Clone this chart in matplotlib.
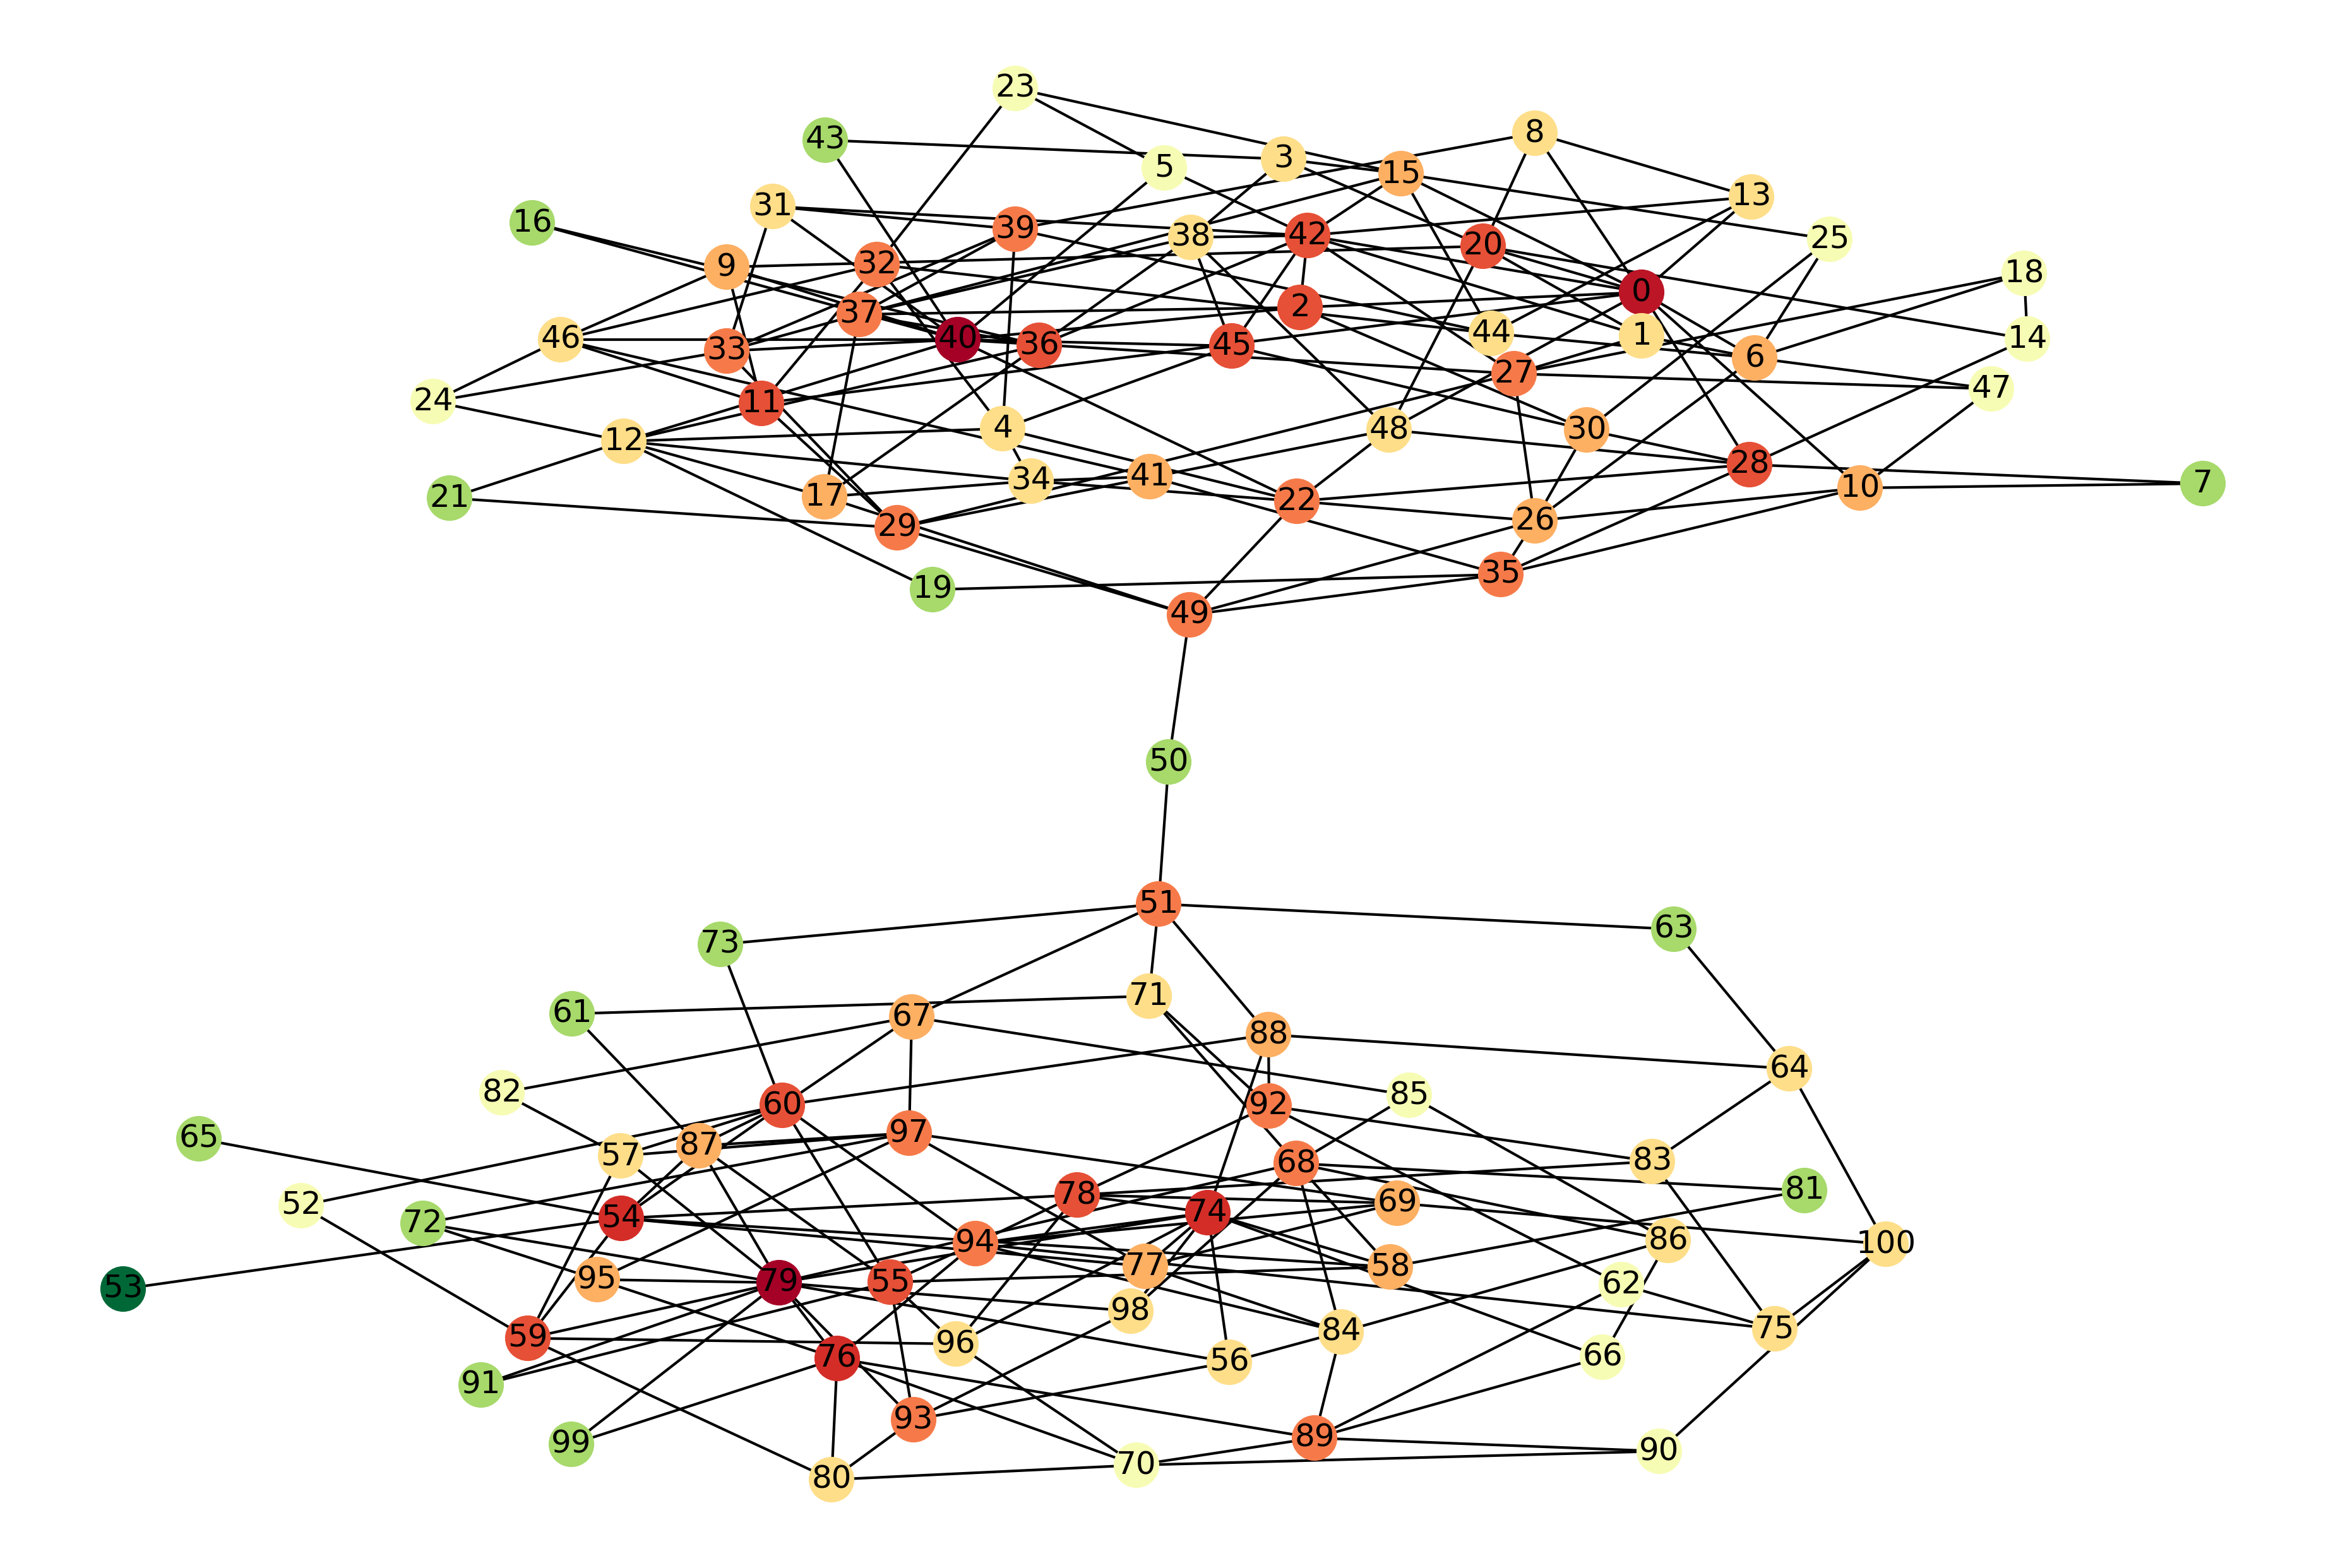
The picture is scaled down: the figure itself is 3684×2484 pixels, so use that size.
import numpy as np
import matplotlib
matplotlib.use("Agg")
import matplotlib.pyplot as plt
from matplotlib.collections import LineCollection

# node positions (pixels), index = node label
node_x = [2600, 2600, 2059, 2033, 1588, 1844, 2779, 3489, 2431, 1151,
          2946, 1206, 988, 2774, 3211, 2219, 843, 1306, 3206, 1477,
          2349, 712, 2054, 1608, 686, 2898, 2431, 2398, 2771, 1421,
          2513, 1224, 1389, 1151, 1633, 2377, 1646, 1361, 1886, 1608,
          1517, 1821, 2071, 1307, 2362, 1951, 888, 3154, 2200, 1884,
          1851, 1835, 477, 195, 984, 1410, 1947, 983, 2202, 836,
          1239, 906, 2568, 2651, 2834, 315, 2538, 1444, 2053, 2213,
          1800, 1820, 670, 1141, 1913, 2811, 1326, 1814, 1706, 1234,
          1317, 2858, 795, 2617, 2124, 2232, 2642, 1107, 2009, 2082,
          2628, 762, 2010, 1447, 1545, 946, 1514, 1440, 1791, 905,
          2987]
node_y = [463, 532, 487, 252, 679, 266, 567, 766, 211, 423,
          773, 639, 699, 312, 537, 275, 353, 787, 433, 934,
          390, 789, 794, 140, 636, 379, 825, 592, 736, 836,
          681, 327, 419, 556, 762, 910, 547, 498, 376, 363,
          538, 755, 373, 222, 528, 548, 538, 616, 681, 974,
          1207, 1432, 1910, 2042, 1930, 2031, 2158, 1831, 2007, 2120,
          1751, 1606, 2035, 1472, 1693, 1804, 2150, 1611, 1843, 1906,
          2321, 1578, 1938, 1496, 1921, 2105, 2152, 2006, 1893, 2032,
          2344, 1886, 1731, 1840, 2110, 1735, 1965, 1815, 1639, 2278,
          2299, 2194, 1752, 2249, 1970, 2027, 2129, 1795, 2077, 2288,
          1971]

# node degree
node_degree = [9, 4, 7, 4, 4, 3, 5, 2, 4, 5,
               5, 7, 4, 4, 3, 5, 2, 5, 3, 2,
               7, 2, 6, 3, 3, 3, 5, 6, 7, 6,
               5, 4, 6, 6, 4, 6, 7, 6, 4, 6,
               10, 5, 7, 2, 4, 7, 4, 3, 4, 6,
               2, 6, 3, 1, 8, 7, 4, 4, 5, 7,
               7, 2, 3, 2, 4, 2, 3, 5, 6, 5,
               3, 4, 2, 2, 8, 4, 8, 5, 7, 10,
               4, 2, 3, 4, 4, 3, 4, 5, 5, 6,
               3, 2, 6, 6, 6, 5, 4, 6, 4, 2,
               4]

edges_top = [(0, 8), (0, 13), (0, 15), (0, 20), (0, 42), (0, 2), (0, 11), (0, 48), (0, 6), (0, 10), (0, 28),
             (1, 20), (1, 42), (1, 6), (1, 27),
             (2, 40), (2, 37), (2, 42), (2, 30),
             (3, 43), (3, 15), (3, 20), (3, 38),
             (4, 39), (4, 32), (4, 12), (4, 45), (4, 22), (4, 34),
             (5, 23), (5, 40), (5, 42),
             (6, 25), (6, 18), (6, 26), (6, 47), (6, 44),
             (7, 28), (7, 10),
             (8, 13), (8, 39), (8, 20),
             (9, 46), (9, 11), (9, 20), (9, 40),
             (10, 47), (10, 26), (10, 35),
             (11, 46), (11, 32), (11, 29),
             (12, 24), (12, 21), (12, 40), (12, 36), (12, 34), (12, 17), (12, 19),
             (13, 42), (13, 44),
             (14, 18), (14, 20), (14, 28),
             (15, 23), (15, 25), (15, 42), (15, 37), (15, 44),
             (16, 36), (16, 40),
             (17, 36), (17, 37), (17, 34), (17, 49),
             (18, 27), (19, 35), (20, 48), (21, 29),
             (22, 40), (22, 34), (22, 48), (22, 26), (22, 28), (22, 49),
             (23, 32), (24, 46), (24, 33), (25, 30),
             (26, 27), (26, 30), (26, 35), (26, 49),
             (27, 42), (27, 40), (27, 29), (27, 47),
             (28, 30), (28, 48), (28, 35),
             (29, 48), (29, 49), (29, 33), (30, 45),
             (31, 39), (31, 40), (31, 33), (31, 42),
             (32, 46), (32, 44),
             (33, 39), (33, 37), (33, 40),
             (34, 41), (35, 41), (35, 49),
             (36, 37), (36, 38), (36, 42),
             (37, 38), (37, 39),
             (38, 42), (38, 45), (38, 48),
             (39, 44), (40, 43), (40, 45), (40, 46), (41, 46), (42, 45)]

edges_bridge = [(49, 50), (50, 51)]

edges_bottom = [(51, 73), (51, 63), (51, 67), (51, 71), (51, 88),
                (52, 60), (52, 59),
                (53, 54), (54, 78), (54, 65), (54, 87), (54, 60), (54, 59), (54, 58), (54, 77),
                (55, 60), (55, 87), (55, 91), (55, 58), (55, 96), (55, 93), (55, 94),
                (56, 74), (56, 84), (56, 93), (56, 79),
                (57, 97), (57, 60), (57, 59), (57, 82), (57, 79),
                (58, 68), (58, 74), (58, 81),
                (59, 79), (59, 96), (59, 80),
                (60, 73), (60, 67), (60, 88), (60, 94), (60, 87),
                (61, 71), (61, 87),
                (62, 92), (62, 89), (62, 75),
                (63, 64), (64, 88), (64, 83), (64, 100),
                (66, 89), (66, 74), (66, 86),
                (67, 82), (67, 85), (67, 97),
                (68, 71), (68, 85), (68, 86), (68, 81), (68, 84), (68, 79), (68, 98),
                (69, 100), (69, 78), (69, 94), (69, 97), (69, 77),
                (70, 89), (70, 90), (70, 80), (70, 76), (70, 96),
                (71, 92), (72, 97), (72, 95), (72, 79),
                (74, 78), (74, 94), (74, 88), (74, 79), (74, 96), (74, 98), (74, 77),
                (75, 94), (75, 83), (75, 100),
                (76, 99), (76, 80), (76, 89), (76, 94), (76, 95), (76, 79),
                (77, 97), (77, 84),
                (78, 92), (78, 83), (78, 94), (78, 96),
                (79, 95), (79, 91), (79, 99), (79, 98), (79, 87), (79, 93),
                (80, 93), (83, 92), (84, 86), (84, 89), (84, 94),
                (85, 86), (87, 97), (88, 92), (89, 90), (90, 100),
                (93, 98), (95, 97)]

edges = edges_top + edges_bridge + edges_bottom

fig = plt.figure(figsize=(3684 / 300, 2484 / 300), dpi=300)
ax = fig.add_axes([0, 0, 1, 1])
ax.set_xlim(0, 3684)
ax.set_ylim(2484, 0)
ax.axis("off")

segments = [[(node_x[a], node_y[a]), (node_x[b], node_y[b])] for a, b in edges]
ax.add_collection(LineCollection(segments, colors="black", linewidths=1.0, zorder=1))

# colour is log10(degree) on the reversed red-yellow-green map
ax.scatter(node_x, node_y, s=300, c=np.log10(node_degree), cmap="RdYlGn_r",
           vmin=0, vmax=1, linewidths=0, zorder=2)

for i, (x, y) in enumerate(zip(node_x, node_y)):
    ax.text(x, y, str(i), fontsize=12, ha="center", va="center", zorder=3)

fig.savefig("out.png", dpi=300)
